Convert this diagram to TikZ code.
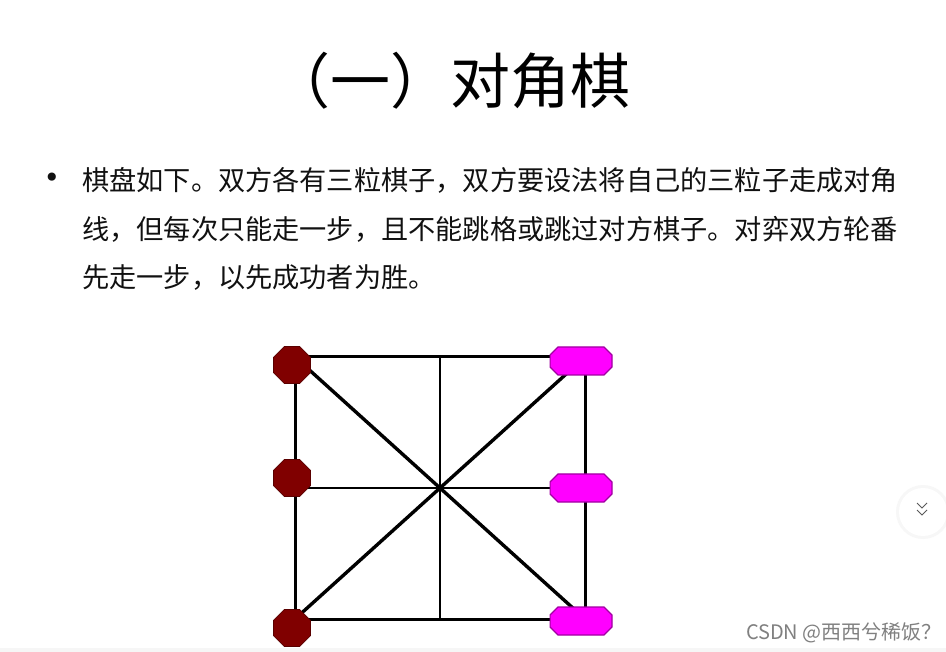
\documentclass[tikz,border=0pt]{standalone}
\usepackage{fontspec}
\setmainfont{Noto Sans CJK SC}
\newfontfamily\cjk{Noto Sans CJK SC}
\newfontfamily\djv{DejaVu Sans}
\usetikzlibrary{shapes.geometric,calc}
\definecolor{redpiece}{HTML}{800000}
\definecolor{redborder}{HTML}{5A0000}
\definecolor{pinkpiece}{HTML}{FF00FF}
\definecolor{pinkborder}{HTML}{A000A0}
\definecolor{txt}{HTML}{111111}
\tikzset{
  boardline/.style={line width=3.0pt, black},
  midline/.style={line width=2.7pt, black},
  diagline/.style={line width=3.4pt, black},
  redpc/.style={regular polygon, regular polygon sides=8, minimum size=40pt, inner sep=0pt,
    fill=redpiece, draw=redborder, line width=0.7pt},
  pinkpc/.style={rectangle, minimum width=63pt, minimum height=29pt, inner sep=0pt,
    path picture={
      \filldraw[fill=pinkpiece, draw=pinkborder, line width=1.2pt]
        ($(path picture bounding box.north west)+(0.5,8.5)$)
        -- ($(path picture bounding box.north west)+(8.5,0.5)$)
        -- ($(path picture bounding box.north east)+(-8.5,0.5)$)
        -- ($(path picture bounding box.north east)+(-0.5,8.5)$)
        -- ($(path picture bounding box.south east)+(-0.5,-8.5)$)
        -- ($(path picture bounding box.south east)+(-8.5,-0.5)$)
        -- ($(path picture bounding box.south west)+(8.5,-0.5)$)
        -- ($(path picture bounding box.south west)+(0.5,-8.5)$) -- cycle;
    }},
  bodytext/.style={anchor=west, inner sep=0pt, font=\cjk\fontsize{27.2}{27.2}\selectfont, text=txt},
}
\begin{document}
\begin{tikzpicture}[x=1pt,y=-1pt]
\useasboundingbox (0,0) rectangle (946,652);
\fill[white] (0,0) rectangle (946,652);
\fill[gray!7] (0,648) rectangle (946,652);
% title
\node[inner sep=0pt, font=\cjk\fontsize{60}{60}\selectfont, text=black] (title) at (450,81) {（一）对角棋};
% bullet text
\node[inner sep=0pt, font=\djv\fontsize{28}{28}\selectfont, text=txt] (bullet) at (52,180) {•};
\node[bodytext] (l1) at (82,180) {棋盘如下。双方各有三粒棋子，双方要设法将自己的三粒子走成对角};
\node[bodytext] (l2) at (82,229) {线，但每次只能走一步，且不能跳格或跳过对方棋子。对弈双方轮番};
\node[bodytext] (l3) at (82,278) {先走一步，以先成功者为胜。};
% board
\coordinate (tl) at (295,357);
\coordinate (tr) at (585,357);
\coordinate (bl) at (295,619);
\coordinate (br) at (585,619);
\coordinate (tm) at (440,357);
\coordinate (bm) at (440,619);
\coordinate (ml) at (295,488);
\coordinate (mr) at (585,488);
\coordinate (c) at (440,488);
\draw[midline] (tm) -- (bm);
\draw[midline] (ml) -- (mr);
\draw[diagline] (tl) -- (br);
\draw[diagline] (tr) -- (bl);
\draw[boardline] (tl) -- (tr) -- (br) -- (bl) -- cycle;
% pieces
\node[redpc] (r1) at (292,365) {};
\node[redpc] (r2) at (292,478) {};
\node[redpc] (r3) at (292,628) {};
\node[pinkpc] (p1) at (581,361) {};
\node[pinkpc] (p2) at (581,488) {};
\node[pinkpc] (p3) at (581,621) {};
% scroll button
\fill[gray!6] (923,512) circle (27);
\node[circle, fill=white, minimum size=48pt, inner sep=0pt] (btn) at (923,512) {};
\draw[gray!70!black, line width=1pt] (917,503) -- (922,508) -- (927,503);
\draw[gray!70!black, line width=1pt] (917,510) -- (922,515) -- (927,510);
% watermark
\node[anchor=east, inner sep=0pt, font=\cjk\fontsize{20}{20}\selectfont, text=gray] (wm) at (942,633) {CSDN @西西兮稀饭？};
\end{tikzpicture}
\end{document}
